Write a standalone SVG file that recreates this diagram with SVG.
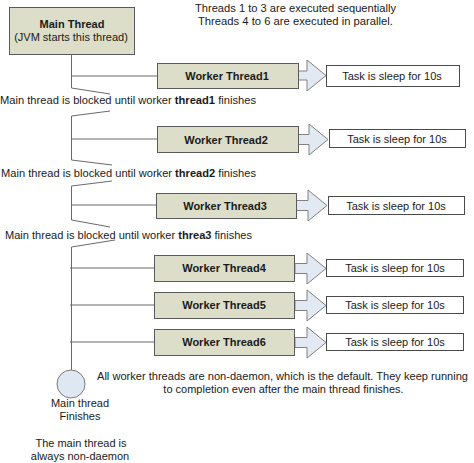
<svg xmlns="http://www.w3.org/2000/svg" width="474" height="463" viewBox="0 0 474 463">
<style>
text{font-family:"Liberation Sans",Arial,sans-serif;font-size:11px;fill:#1a1a1a}
.b{font-weight:bold}
.c{text-anchor:middle}
.wk{fill:#dcdec9;stroke:#5a5a5a;stroke-width:1}
.task{fill:#ffffff;stroke:#4a4a4a;stroke-width:1}
.ln{stroke:#6a6a6a;stroke-width:1;fill:none}
.arr{fill:#e2e9f2;stroke:#808080;stroke-width:1}
</style>
<rect width="474" height="463" fill="#ffffff"/>

<g id="notes">
<text x="195" y="12" style="font-size:11.7px" textLength="201" lengthAdjust="spacingAndGlyphs">Threads 1 to 3 are executed sequentially</text>
<text x="198" y="25" style="font-size:11.7px" textLength="195" lengthAdjust="spacingAndGlyphs">Threads 4 to  6 are executed in parallel.</text>
<text x="97" y="380" textLength="371" lengthAdjust="spacingAndGlyphs">All worker threads are non-daemon, which is the default. They keep running</text>
<text x="283.5" y="393" class="c">to completion even after the main thread finishes.</text>
<text x="81" y="447" class="c">The main thread is</text>
<text x="80" y="460" class="c">always non-daemon</text>
</g>

<g id="connectors">
<path class="ln" d="M71.5 54V88M71.5 116V160M71.5 186V220M71.5 247V370"/>
<path class="ln" d="M71.5 76H157M71.5 139H157M71.5 205H156M70 268H154M70 305H154M70 342H154"/>
<path class="ln" d="M71.5 88L110 94M71.5 116L110 111M71.5 160L112 165M71.5 186L112 181M71.5 220L110 227M71.5 247L115 240"/>
<path class="arr" d="M298 71H307V60L326 75.5L307 91V80H298Z"/>
<path class="arr" d="M298 134.5H309V124L328 139.5L309 155V144.5H298Z"/>
<path class="arr" d="M296 200.5H308V190L327 205.5L308 221V210.5H296Z"/>
<path class="arr" d="M295 263.5H307V253L326 268.5L307 284V273.5H295Z"/>
<path class="arr" d="M295 300.5H307V290L326 305.5L307 321V310.5H295Z"/>
<path class="arr" d="M295 337.5H307V327L326 342.5L307 358V347.5H295Z"/>
</g>

<g id="labels">
<text x="0" y="104" textLength="256" lengthAdjust="spacingAndGlyphs">Main thread is blocked until worker <tspan class="b">thread1</tspan> finishes</text>
<text x="1" y="177" textLength="255" lengthAdjust="spacingAndGlyphs">Main thread is blocked until worker <tspan class="b">thread2</tspan> finishes</text>
<text x="5" y="239" textLength="247" lengthAdjust="spacingAndGlyphs">Main thread is blocked until worker <tspan class="b">threa3</tspan> finishes</text>
</g>

<g id="main-thread">
<rect class="wk" x="9.5" y="7.5" width="125" height="47"/>
<text x="72" y="28" class="c b">Main Thread</text>
<text x="71" y="41" class="c">(JVM starts this thread)</text>
</g>

<g id="worker1"><rect class="wk" x="157.5" y="63.5" width="141" height="25"/><text x="227" y="80" class="c b">Worker Thread1</text></g>
<g id="task1"><rect class="task" x="326.5" y="65.5" width="133" height="21"/><text x="392" y="80" class="c">Task is sleep for 10s</text></g>

<g id="worker2"><rect class="wk" x="157.5" y="126.5" width="141" height="26"/><text x="226" y="143.5" class="c b">Worker Thread2</text></g>
<g id="task2"><rect class="task" x="329.5" y="129.5" width="136" height="18"/><text x="397" y="142.5" class="c">Task is sleep for 10s</text></g>

<g id="worker3"><rect class="wk" x="156.5" y="193.5" width="140" height="25"/><text x="225" y="210" class="c b">Worker Thread3</text></g>
<g id="task3"><rect class="task" x="328.5" y="196.5" width="136" height="18"/><text x="396" y="209.5" class="c">Task is sleep for 10s</text></g>

<g id="worker4"><rect class="wk" x="154.5" y="255.5" width="140" height="26"/><text x="224" y="272" class="c b">Worker Thread4</text></g>
<g id="task4"><rect class="task" x="326.5" y="259.5" width="137" height="17"/><text x="395" y="272" class="c">Task is sleep for 10s</text></g>

<g id="worker5"><rect class="wk" x="154.5" y="292.5" width="140" height="26"/><text x="224" y="309" class="c b">Worker Thread5</text></g>
<g id="task5"><rect class="task" x="326.5" y="296.5" width="137" height="17"/><text x="395" y="309" class="c">Task is sleep for 10s</text></g>

<g id="worker6"><rect class="wk" x="154.5" y="329.5" width="140" height="26"/><text x="224" y="346" class="c b">Worker Thread6</text></g>
<g id="task6"><rect class="task" x="326.5" y="333.5" width="137" height="17"/><text x="395" y="346" class="c">Task is sleep for 10s</text></g>

<g id="main-end">
<circle cx="71" cy="384" r="14" fill="#dfe7f3" stroke="#7a7a7a" stroke-width="1"/>
<text x="80" y="407" class="c">Main thread</text>
<text x="80" y="420" class="c">Finishes</text>
</g>
</svg>
